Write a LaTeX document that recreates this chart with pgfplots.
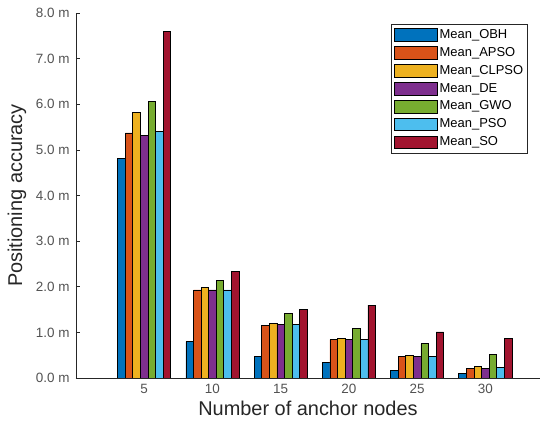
\documentclass[border=0pt]{standalone}
\usepackage{fontspec}
\setmainfont{Liberation Sans}
\usepackage{pgfplots}
\pgfplotsset{compat=1.18}

\definecolor{cOBH}{rgb}{0,0.447,0.741}
\definecolor{cAPSO}{rgb}{0.85,0.325,0.098}
\definecolor{cCLPSO}{rgb}{0.929,0.694,0.125}
\definecolor{cDE}{rgb}{0.494,0.184,0.556}
\definecolor{cGWO}{rgb}{0.466,0.674,0.188}
\definecolor{cPSO}{rgb}{0.301,0.745,0.933}
\definecolor{cSO}{rgb}{0.635,0.078,0.184}
\definecolor{axgray}{rgb}{0.15,0.15,0.15}

\begin{document}
\begin{tikzpicture}
\useasboundingbox (-76bp,-55bp) rectangle (474bp,378bp);
\begin{axis}[
  scale only axis,
  width=464bp, height=365bp,
  xmin=0, xmax=34,
  ymin=0, ymax=8,
  axis x line*=bottom,
  axis y line*=left,
  axis line style={axgray, line width=0.6bp},
  ybar=0pt,
  bar width=0.556,
  xtick={5,10,15,20,25,30},
  ytick={0,1,...,8},
  x tick style={draw=none},
  y tick style={axgray, line width=0.6bp},
  major tick length=4bp,
  tick align=inside,
  /pgf/number format/assume math mode=true,
  ticklabel style={font=\fontsize{13.5}{15}\selectfont, text=axgray!80},
  yticklabel={\pgfmathprintnumber[fixed,fixed zerofill,precision=1]{\tick} m},
  yticklabel style={xshift=-3bp},
  xticklabel style={yshift=-3bp},
  xlabel={Number of anchor nodes},
  ylabel={Positioning accuracy},
  every axis x label/.style={at={(rel axis cs:0.5,0)}, yshift=-30bp, anchor=center,
    font=\fontsize{20}{22}\selectfont, text=axgray},
  every axis y label/.style={at={(rel axis cs:0,0.5)}, xshift=-59bp, rotate=90, anchor=center,
    font=\fontsize{20}{22}\selectfont, text=axgray},
  legend cell align=left,
  legend image code/.code={\draw[#1] (0bp,-6.3bp) rectangle (43bp,6.3bp);},
  legend style={at={(rel axis cs:1,1)}, anchor=north east, xshift=-12bp, yshift=-11bp,
    draw=axgray, line width=0.6bp, inner xsep=3bp, inner ysep=2.5bp,
    font=\fontsize{13}{15}\selectfont,
    nodes={inner sep=1.5bp, text height=10bp, text depth=3.5bp},
    row sep=1.4bp},
  every axis plot/.append style={draw=black, line width=0.8bp},
]
\addplot[fill=cOBH] coordinates {(5,4.82) (10,0.80) (15,0.48) (20,0.35) (25,0.16) (30,0.09)};
\addplot[fill=cAPSO] coordinates {(5,5.37) (10,1.93) (15,1.16) (20,0.84) (25,0.48) (30,0.21)};
\addplot[fill=cCLPSO] coordinates {(5,5.83) (10,1.98) (15,1.20) (20,0.87) (25,0.50) (30,0.26)};
\addplot[fill=cDE] coordinates {(5,5.32) (10,1.93) (15,1.18) (20,0.84) (25,0.48) (30,0.21)};
\addplot[fill=cGWO] coordinates {(5,6.07) (10,2.14) (15,1.41) (20,1.08) (25,0.75) (30,0.52)};
\addplot[fill=cPSO] coordinates {(5,5.41) (10,1.93) (15,1.18) (20,0.84) (25,0.48) (30,0.23)};
\addplot[fill=cSO] coordinates {(5,7.59) (10,2.33) (15,1.51) (20,1.60) (25,1.01) (30,0.87)};
\legend{Mean\_OBH,Mean\_APSO,Mean\_CLPSO,Mean\_DE,Mean\_GWO,Mean\_PSO,Mean\_SO}
\end{axis}
\end{tikzpicture}
\end{document}
